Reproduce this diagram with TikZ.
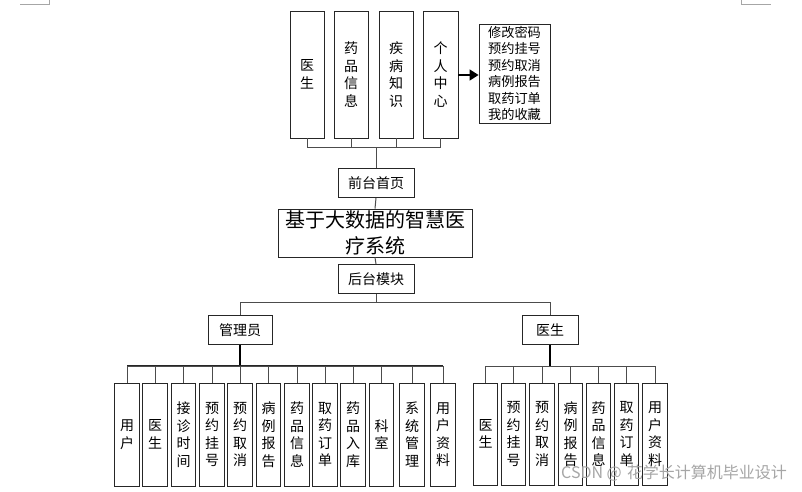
\documentclass[tikz,border=0pt]{standalone}
\usepackage{fontspec}
\newfontfamily\cjk{Noto Sans CJK SC}
\usetikzlibrary{arrows.meta}
\tikzset{
  box/.style={draw=black!85, line width=0.9pt, fill=white, inner sep=0pt, align=center,
    font=\cjk\fontsize{14}{17.5}\selectfont},
  topbox/.style={box, minimum width=34pt, minimum height=127pt},
  leaf/.style={box, minimum width=24.5pt, minimum height=103pt},
  lab/.style={box, minimum height=29pt},
  conn/.style={draw=black!70, line width=1pt},
  thickconn/.style={draw=black, line width=1.8pt},
  cornermark/.style={draw=black!35, line width=0.8pt}
}
\begin{document}
\begin{tikzpicture}[x=1pt,y=-1pt]
\useasboundingbox[fill=white] (0,0) rectangle (802,491);
% page corner marks
\draw[cornermark] (20,4) -- (49,4) -- (49,0);
\draw[cornermark] (741,0) -- (741,4) -- (771,4);
% top row
\node[topbox] (t1) at (307,74.5) {医\\生};
\node[topbox] (t2) at (351,74.5) {药\\品\\信\\息};
\node[topbox] (t3) at (396,74.5) {疾\\病\\知\\识};
\node[topbox, minimum width=35pt] (t4) at (440.5,74.5) {个\\人\\中\\心};
\node[box, minimum width=71pt, minimum height=99pt, font=\cjk\fontsize{13.2}{16.4}\selectfont] (list) at (514.5,73.5)
  {修改密码\\预约挂号\\预约取消\\病例报告\\取药订单\\我的收藏};
\draw[line width=1.6pt, -{Triangle[length=9pt,width=11pt]}] (t4.east |- 0,75) -- (list.west |- 0,75);
% front
\coordinate (bus1) at (376,147);
\node[lab, minimum width=76pt] (front) at (376,183) {前台首页};
\draw[conn] (t1.south) |- (bus1);
\draw[conn] (t2.south) |- (bus1);
\draw[conn] (t3.south) |- (bus1);
\draw[conn] (t4.south) |- (bus1);
\draw[conn] (bus1) -- (front.north);
% main
\node[box, minimum width=194pt, minimum height=48pt, font=\cjk\fontsize{20}{26.5}\selectfont] (main) at (375,233)
  {基于大数据的智慧医\\疗系统};
\node[lab, minimum width=76pt] (back) at (376,279) {后台模块};
\draw[conn] (front.south) -- (main.north);
\draw[conn] (main.south) -- (back.north);
% second level
\coordinate (b2) at (376,302);
\node[lab, minimum width=64pt] (admin) at (240,330) {管理员};
\node[lab, minimum width=56pt] (doc) at (550,330) {医生};
\draw[conn] (back.south) -- (b2);
\draw[conn] (b2) -| (admin.north);
\draw[conn] (b2) -| (doc.north);
% admin leaves
\coordinate (ab) at (240,366);
\draw[thickconn] (admin.south) -- (ab);
\node[leaf] (a1) at (127,434.5) {用\\户};
\node[leaf] (a2) at (155,434.5) {医\\生};
\node[leaf] (a3) at (183.5,434.5) {接\\诊\\时\\间};
\node[leaf] (a4) at (212,434.5) {预\\约\\挂\\号};
\node[leaf] (a5) at (240,434.5) {预\\约\\取\\消};
\node[leaf] (a6) at (268.5,434.5) {病\\例\\报\\告};
\node[leaf] (a7) at (297,434.5) {药\\品\\信\\息};
\node[leaf] (a8) at (325,434.5) {取\\药\\订\\单};
\node[leaf] (a9) at (353,434.5) {药\\品\\入\\库};
\node[leaf] (a10) at (381.5,434.5) {科\\室};
\node[leaf] (a11) at (412,434.5) {系\\统\\管\\理};
\node[leaf] (a12) at (443,434.5) {用\\户\\资\\料};
\draw[conn, line width=1.3pt, draw=black!85] (a1.north |- ab) -- (a12.north |- ab);
\foreach \i in {1,...,12} { \draw[conn] (ab) -| (a\i.north); }
% doctor leaves
\coordinate (db) at (550,366);
\draw[thickconn] (doc.south) -- (db);
\node[leaf, minimum height=102pt] (d1) at (485.5,434) {医\\生};
\node[leaf, minimum height=102pt] (d2) at (513.5,434) {预\\约\\挂\\号};
\node[leaf, minimum height=102pt] (d3) at (542,434) {预\\约\\取\\消};
\node[leaf, minimum height=102pt] (d4) at (570.5,434) {病\\例\\报\\告};
\node[leaf, minimum height=102pt] (d5) at (598.5,434) {药\\品\\信\\息};
\node[leaf, minimum height=102pt] (d6) at (626.5,434) {取\\药\\订\\单};
\node[leaf, minimum height=102pt] (d7) at (655,434) {用\\户\\资\\料};
\foreach \i in {1,...,7} { \draw[conn] (db) -| (d\i.north); }
% watermark
\node[anchor=west, inner sep=0pt, text=black!35, font=\cjk\fontsize{16}{18}\selectfont] (wm) at (561,473) {CSDN @\hspace{5pt}花学长计算机毕业设计};
\end{tikzpicture}
\end{document}
